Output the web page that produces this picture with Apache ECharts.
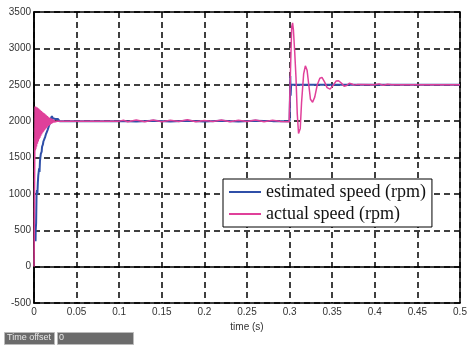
<!DOCTYPE html>
<html>
<head>
<meta charset="utf-8">
<script src="https://cdn.jsdelivr.net/npm/echarts@6/dist/echarts.min.js"></script>
<style>
  html, body { margin: 0; padding: 0; background: #fff; }
  #chart { width: 474px; height: 351px; }
</style>
</head>
<body>
<div id="chart"></div>
<script>
// speed response: estimated vs actual (rpm), time in seconds

const legendNames = ['estimated speed (rpm)', 'actual speed (rpm)'];

// estimated speed (blue)
const estTime = [
    0.0018, 0.002, 0.0025, 0.003, 0.0035, 0.004, 0.0045, 0.005, 0.0055, 0.006,
    0.0065, 0.007, 0.0075, 0.008, 0.009, 0.0095, 0.0105, 0.011, 0.012, 0.013,
    0.014, 0.015, 0.016, 0.017, 0.018, 0.019, 0.02, 0.021, 0.022, 0.023,
    0.024, 0.025, 0.026, 0.027, 0.028, 0.03, 0.1, 0.12, 0.14, 0.16,
    0.18, 0.2, 0.22, 0.24, 0.26, 0.28, 0.3, 0.3005, 0.3008, 0.3012,
    0.3018, 0.303, 0.305, 0.5
];
const estSpeed = [
    350, 500, 600, 1000, 1050, 1000, 1150, 1250, 1300, 1350,
    1300, 1450, 1500, 1550, 1580, 1650, 1680, 1720, 1750, 1780,
    1820, 1850, 1880, 1900, 1950, 1980, 2040, 2070, 2040, 2060,
    2050, 2030, 2050, 2020, 2030, 2000, 2000, 1995, 2005, 1995,
    2005, 1995, 2005, 1995, 2005, 2000, 2000, 2000, 2620, 2350,
    2500, 2480, 2500, 2500
];

// actual speed (magenta)
const actTime = [
    0, 0.0012, 0.0013, 0.0016, 0.0019, 0.0022, 0.0025, 0.003, 0.0035, 0.004,
    0.0045, 0.005, 0.0055, 0.006, 0.0065, 0.007, 0.0075, 0.008, 0.0085, 0.009,
    0.0095, 0.01, 0.0105, 0.011, 0.0115, 0.012, 0.0125, 0.013, 0.0135, 0.014,
    0.0145, 0.015, 0.0155, 0.016, 0.0165, 0.017, 0.0175, 0.018, 0.0185, 0.019,
    0.0195, 0.02, 0.0205, 0.021, 0.0215, 0.022, 0.0225, 0.023, 0.0235, 0.024,
    0.0245, 0.025, 0.026, 0.027, 0.028, 0.1, 0.105, 0.11, 0.12, 0.13,
    0.14, 0.15, 0.16, 0.17, 0.18, 0.19, 0.2, 0.21, 0.22, 0.23,
    0.24, 0.25, 0.26, 0.27, 0.28, 0.29, 0.2995, 0.3008, 0.3015, 0.3025,
    0.3035, 0.3045, 0.306, 0.3075, 0.309, 0.3105, 0.3115, 0.3125, 0.314, 0.3165,
    0.3185, 0.3205, 0.3225, 0.3245, 0.327, 0.3295, 0.3325, 0.3355, 0.338, 0.341,
    0.344, 0.3475, 0.351, 0.3545, 0.3575, 0.361, 0.364, 0.367, 0.37, 0.373,
    0.376, 0.38, 0.4, 0.405, 0.41, 0.415, 0.42, 0.5
];
const actSpeed = [
    0, 0, 2200, 1600, 2200, 1620, 2190, 1650, 2190, 1690,
    2180, 1720, 2170, 1750, 2160, 1770, 2150, 1800, 2140, 1820,
    2130, 1840, 2120, 1855, 2110, 1870, 2100, 1885, 2090, 1900,
    2080, 1910, 2070, 1925, 2060, 1935, 2050, 1945, 2045, 1955,
    2040, 1962, 2035, 1970, 2028, 1976, 2022, 1982, 2016, 1988,
    2010, 1994, 2005, 1998, 2000, 2000, 2012, 1992, 2014, 1990,
    2016, 1992, 2012, 1994, 2018, 1990, 2010, 1996, 2014, 1990,
    2012, 1994, 2016, 1992, 2012, 1994, 1990, 2000, 2900, 3300,
    3350, 3250, 2950, 2600, 2100, 1830, 1810, 1900, 2250, 2650,
    2760, 2700, 2500, 2300, 2260, 2330, 2500, 2590, 2600, 2540,
    2460, 2440, 2490, 2550, 2555, 2520, 2480, 2490, 2520, 2510,
    2495, 2505, 2500, 2512, 2494, 2506, 2500, 2500
];

function zip(xs, ys) {
    return xs.map(function (x, i) { return [x, ys[i]]; });
}

const chart = echarts.init(document.getElementById('chart'));

const tickFont = { color: '#333', fontSize: 10, fontFamily: 'Liberation Sans' };
const dashed = { color: '#000', width: 1.5, type: [6, 4] };

chart.setOption({
    animation: false,
    backgroundColor: '#fff',
    grid: {
        left: 34, right: 14, top: 12, bottom: 48,
        show: true,
        borderColor: '#000',
        borderWidth: 1.5,
        backgroundColor: 'transparent'
    },
    xAxis: {
        type: 'value',
        min: 0,
        max: 0.5,
        interval: 0.05,
        name: 'time (s)',
        nameLocation: 'middle',
        nameGap: 19,
        nameTextStyle: tickFont,
        axisLine: { lineStyle: { color: '#000', width: 1.5 } },
        axisTick: { show: false },
        axisLabel: Object.assign({
            margin: 4,
            formatter: function (v) { return String(Number(v.toFixed(2))); }
        }, tickFont),
        splitLine: { show: true, lineStyle: dashed }
    },
    yAxis: {
        type: 'value',
        min: -500,
        max: 3500,
        interval: 500,
        axisLine: { show: true, lineStyle: { color: '#000', width: 1.5 } },
        axisTick: { show: false },
        axisLabel: Object.assign({
            margin: 3,
            formatter: function (v) { return String(v); }
        }, tickFont),
        splitLine: { show: true, lineStyle: dashed }
    },
    legend: {
        data: legendNames,
        orient: 'vertical',
        left: 223,
        top: 179,
        backgroundColor: '#fff',
        borderColor: '#000',
        borderWidth: 1,
        padding: [4, 6, 4, 6],
        itemGap: 4,
        itemWidth: 32,
        itemHeight: 2,
        icon: 'rect',
        textStyle: { fontFamily: 'Liberation Serif', fontSize: 18, color: '#111' }
    },
    series: [
        {
            name: legendNames[0],
            type: 'line',
            showSymbol: false,
            color: '#2f4fa8',
            lineStyle: { width: 2, color: '#2f4fa8' },
            data: zip(estTime, estSpeed)
        },
        {
            name: legendNames[1],
            type: 'line',
            showSymbol: false,
            color: '#e0409a',
            lineStyle: { width: 1.5, color: '#e0409a' },
            data: zip(actTime, actSpeed)
        }
    ],
    graphic: [
        { type: 'rect', left: 4, top: 332, shape: { width: 50, height: 12 }, style: { fill: '#6b6b6b', stroke: '#bbb', lineWidth: 1 } },
        { type: 'text', left: 7, top: 333, style: { text: 'Time offset', fill: '#e8e8e8', font: '9px Liberation Sans' } },
        { type: 'rect', left: 57, top: 332, shape: { width: 76, height: 12 }, style: { fill: '#6b6b6b', stroke: '#bbb', lineWidth: 1 } },
        { type: 'text', left: 59, top: 333, style: { text: '0', fill: '#e8e8e8', font: '9px Liberation Sans' } }
    ]
});
</script>
</body>
</html>
